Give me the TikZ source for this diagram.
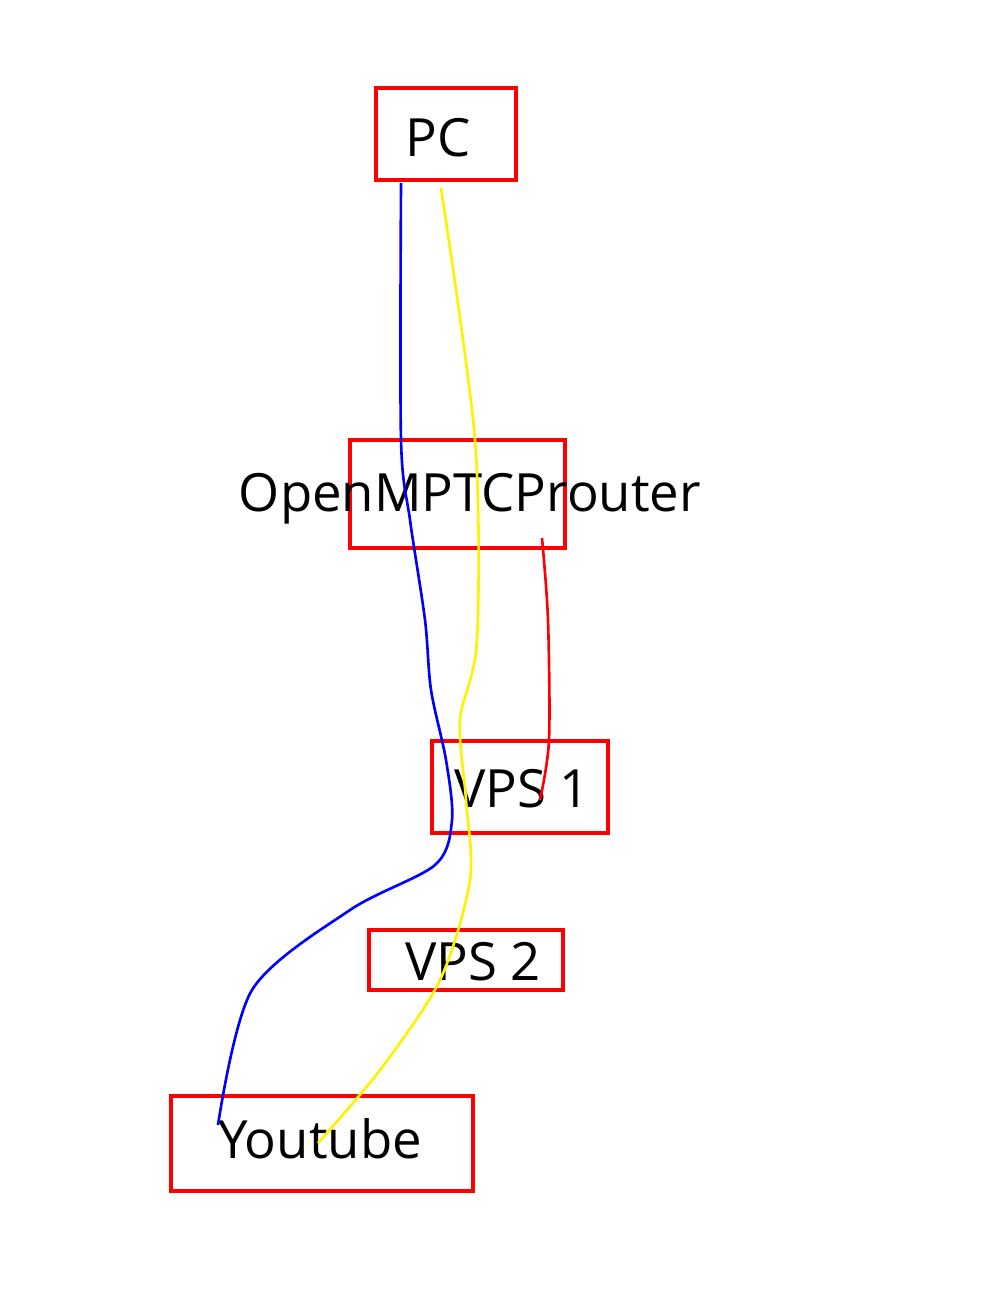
\documentclass[tikz,border=0pt]{standalone}
\usepackage{fontspec}
\setmainfont{Open Sans}
\begin{document}
\begin{tikzpicture}[x=0.02cm,y=-0.02cm,
  box/.style={draw=red,line width=2.2pt},
  lbl/.style={font=\fontsize{30}{34}\selectfont},
  wire/.style={line width=1.5pt}]
\useasboundingbox (0,0) rectangle (1000,1293);
\draw[box] (376,88) rectangle (516,180);
\draw[box] (350,440) rectangle (565,548);
\draw[box] (432,741) rectangle (608,833);
\draw[box] (369,930) rectangle (563,990);
\draw[box] (171,1096) rectangle (473,1191);
\node[lbl] (pc) at (438,138) {PC};
\node[lbl] (omr) at (470,499) {OpenMPTCProuter};
\node[lbl] (v1) at (522,789) {VPS 1};
\node[lbl] (v2) at (473,962) {VPS 2};
\node[lbl] (yt) at (320,1139) {Youtube};
\draw[wire,blue] plot[smooth,tension=0.5] coordinates {(401,183) (401,440) (410,520) (425,620) (431,690) (446,760) (452,820) (435,865) (350,910) (252,990) (218,1125)};
\draw[wire,yellow] plot[smooth,tension=0.5] coordinates {(441,188) (475,440) (477,640) (460,720) (466,800) (470,880) (440,980) (380,1070) (318,1143)};
\draw[wire,red] plot[smooth,tension=0.5] coordinates {(542,538) (548,620) (549,740) (540,800)};
\end{tikzpicture}
\end{document}
